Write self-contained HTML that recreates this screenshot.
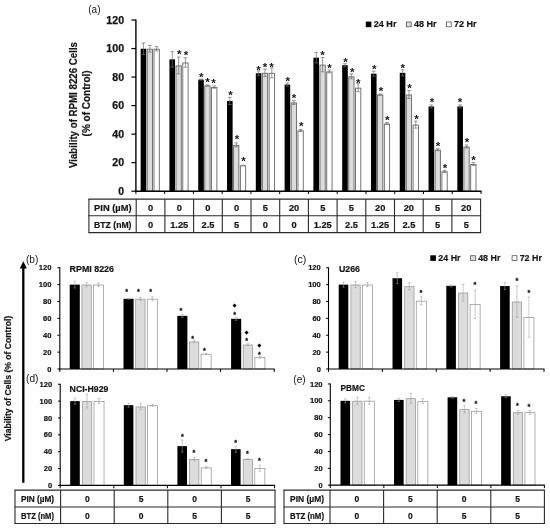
<!DOCTYPE html>
<html lang="en"><head><meta charset="utf-8"><title>Figure</title>
<style>
html,body{margin:0;padding:0;background:#fff;}
body{width:550px;height:529px;overflow:hidden;}
svg{display:block;font-family:'Liberation Sans', 'DejaVu Sans', sans-serif;}
</style></head><body>
<svg width="550" height="529" viewBox="0 0 550 529">
<rect x="0" y="0" width="550" height="529" fill="#fff"/>
<text x="88.30" y="12.50" font-size="10.5" font-weight="normal" text-anchor="start" fill="#151515" textLength="12.20" lengthAdjust="spacingAndGlyphs" >(a)</text>
<text x="124.10" y="194.80" font-size="10.0" font-weight="bold" text-anchor="end" fill="#151515" textLength="5.80" lengthAdjust="spacingAndGlyphs" stroke="#151515" stroke-width="0.25">0</text>
<line x1="131.40" y1="191.20" x2="135.90" y2="191.20" stroke="#000" stroke-width="1.2" />
<text x="124.10" y="166.27" font-size="10.0" font-weight="bold" text-anchor="end" fill="#151515" textLength="11.80" lengthAdjust="spacingAndGlyphs" stroke="#151515" stroke-width="0.25">20</text>
<line x1="131.40" y1="162.67" x2="135.90" y2="162.67" stroke="#000" stroke-width="1.2" />
<text x="124.10" y="137.74" font-size="10.0" font-weight="bold" text-anchor="end" fill="#151515" textLength="11.80" lengthAdjust="spacingAndGlyphs" stroke="#151515" stroke-width="0.25">40</text>
<line x1="131.40" y1="134.14" x2="135.90" y2="134.14" stroke="#000" stroke-width="1.2" />
<text x="124.10" y="109.21" font-size="10.0" font-weight="bold" text-anchor="end" fill="#151515" textLength="11.80" lengthAdjust="spacingAndGlyphs" stroke="#151515" stroke-width="0.25">60</text>
<line x1="131.40" y1="105.61" x2="135.90" y2="105.61" stroke="#000" stroke-width="1.2" />
<text x="124.10" y="80.68" font-size="10.0" font-weight="bold" text-anchor="end" fill="#151515" textLength="11.80" lengthAdjust="spacingAndGlyphs" stroke="#151515" stroke-width="0.25">80</text>
<line x1="131.40" y1="77.08" x2="135.90" y2="77.08" stroke="#000" stroke-width="1.2" />
<text x="124.10" y="52.15" font-size="10.0" font-weight="bold" text-anchor="end" fill="#151515" textLength="17.80" lengthAdjust="spacingAndGlyphs" stroke="#151515" stroke-width="0.25">100</text>
<line x1="131.40" y1="48.55" x2="135.90" y2="48.55" stroke="#000" stroke-width="1.2" />
<text x="124.10" y="23.62" font-size="10.0" font-weight="bold" text-anchor="end" fill="#151515" textLength="17.80" lengthAdjust="spacingAndGlyphs" stroke="#151515" stroke-width="0.25">120</text>
<line x1="131.40" y1="20.02" x2="135.90" y2="20.02" stroke="#000" stroke-width="1.2" />
<text x="76.70" y="105.00" font-size="10.1" font-weight="bold" text-anchor="middle" fill="#151515" textLength="126.00" lengthAdjust="spacingAndGlyphs" transform="rotate(-90 76.70 105.00)" stroke="#151515" stroke-width="0.2">Viability of RPMI 8226 Cells</text>
<text x="90.30" y="103.40" font-size="10.1" font-weight="bold" text-anchor="middle" fill="#151515" textLength="66.00" lengthAdjust="spacingAndGlyphs" transform="rotate(-90 90.30 103.40)" stroke="#151515" stroke-width="0.2">(% of Control)</text>
<rect x="140.65" y="48.75" width="5.60" height="142.45" fill="#000"/>
<rect x="147.20" y="49.20" width="5.30" height="142.00" fill="#dcdcdc" stroke="#666666" stroke-width="0.9"/>
<rect x="154.00" y="49.20" width="5.30" height="142.00" fill="#fff" stroke="#666666" stroke-width="0.9"/>
<line x1="143.45" y1="43.05" x2="143.45" y2="54.45" stroke="#6e6e6e" stroke-width="0.7" />
<line x1="141.65" y1="43.05" x2="145.25" y2="43.05" stroke="#6e6e6e" stroke-width="0.7" />
<line x1="141.65" y1="54.45" x2="145.25" y2="54.45" stroke="#6e6e6e" stroke-width="0.7" />
<line x1="149.85" y1="45.35" x2="149.85" y2="52.15" stroke="#6e6e6e" stroke-width="0.7" />
<line x1="148.05" y1="45.35" x2="151.65" y2="45.35" stroke="#6e6e6e" stroke-width="0.7" />
<line x1="148.05" y1="52.15" x2="151.65" y2="52.15" stroke="#6e6e6e" stroke-width="0.7" />
<line x1="156.65" y1="46.65" x2="156.65" y2="50.85" stroke="#6e6e6e" stroke-width="0.7" />
<line x1="154.85" y1="46.65" x2="158.45" y2="46.65" stroke="#6e6e6e" stroke-width="0.7" />
<line x1="154.85" y1="50.85" x2="158.45" y2="50.85" stroke="#6e6e6e" stroke-width="0.7" />
<rect x="169.44" y="59.38" width="5.60" height="131.82" fill="#000"/>
<rect x="175.99" y="65.93" width="5.30" height="125.27" fill="#dcdcdc" stroke="#666666" stroke-width="0.9"/>
<rect x="182.79" y="62.95" width="5.30" height="128.25" fill="#fff" stroke="#666666" stroke-width="0.9"/>
<line x1="172.24" y1="51.68" x2="172.24" y2="67.08" stroke="#6e6e6e" stroke-width="0.7" />
<line x1="170.44" y1="51.68" x2="174.04" y2="51.68" stroke="#6e6e6e" stroke-width="0.7" />
<line x1="170.44" y1="67.08" x2="174.04" y2="67.08" stroke="#6e6e6e" stroke-width="0.7" />
<line x1="178.64" y1="57.08" x2="178.64" y2="73.88" stroke="#6e6e6e" stroke-width="0.7" />
<line x1="176.84" y1="57.08" x2="180.44" y2="57.08" stroke="#6e6e6e" stroke-width="0.7" />
<line x1="176.84" y1="73.88" x2="180.44" y2="73.88" stroke="#6e6e6e" stroke-width="0.7" />
<text x="179.30" y="57.79" font-size="11.6" font-weight="bold" text-anchor="middle" fill="#151515" >*</text>
<line x1="185.44" y1="57.80" x2="185.44" y2="67.20" stroke="#6e6e6e" stroke-width="0.7" />
<line x1="183.64" y1="57.80" x2="187.24" y2="57.80" stroke="#6e6e6e" stroke-width="0.7" />
<line x1="183.64" y1="67.20" x2="187.24" y2="67.20" stroke="#6e6e6e" stroke-width="0.7" />
<text x="186.10" y="59.29" font-size="11.6" font-weight="bold" text-anchor="middle" fill="#151515" >*</text>
<rect x="198.23" y="79.65" width="5.60" height="111.55" fill="#000"/>
<rect x="204.78" y="85.91" width="5.30" height="105.29" fill="#dcdcdc" stroke="#666666" stroke-width="0.9"/>
<rect x="211.58" y="87.47" width="5.30" height="103.73" fill="#fff" stroke="#666666" stroke-width="0.9"/>
<line x1="201.03" y1="79.15" x2="201.03" y2="80.15" stroke="#6e6e6e" stroke-width="0.7" />
<line x1="199.23" y1="79.15" x2="202.83" y2="79.15" stroke="#6e6e6e" stroke-width="0.7" />
<line x1="199.23" y1="80.15" x2="202.83" y2="80.15" stroke="#6e6e6e" stroke-width="0.7" />
<text x="201.30" y="80.89" font-size="11.6" font-weight="bold" text-anchor="middle" fill="#151515" >*</text>
<line x1="207.43" y1="84.96" x2="207.43" y2="85.96" stroke="#6e6e6e" stroke-width="0.7" />
<line x1="205.63" y1="84.96" x2="209.23" y2="84.96" stroke="#6e6e6e" stroke-width="0.7" />
<line x1="205.63" y1="85.96" x2="209.23" y2="85.96" stroke="#6e6e6e" stroke-width="0.7" />
<text x="207.60" y="86.39" font-size="11.6" font-weight="bold" text-anchor="middle" fill="#151515" >*</text>
<line x1="214.23" y1="85.82" x2="214.23" y2="88.22" stroke="#6e6e6e" stroke-width="0.7" />
<line x1="212.43" y1="85.82" x2="216.03" y2="85.82" stroke="#6e6e6e" stroke-width="0.7" />
<line x1="212.43" y1="88.22" x2="216.03" y2="88.22" stroke="#6e6e6e" stroke-width="0.7" />
<text x="213.60" y="87.39" font-size="11.6" font-weight="bold" text-anchor="middle" fill="#151515" >*</text>
<rect x="227.02" y="100.91" width="5.60" height="90.29" fill="#000"/>
<rect x="233.57" y="145.31" width="5.30" height="45.89" fill="#dcdcdc" stroke="#666666" stroke-width="0.9"/>
<rect x="240.37" y="165.86" width="5.30" height="25.34" fill="#fff" stroke="#666666" stroke-width="0.9"/>
<line x1="229.82" y1="97.31" x2="229.82" y2="104.51" stroke="#6e6e6e" stroke-width="0.7" />
<line x1="228.02" y1="97.31" x2="231.62" y2="97.31" stroke="#6e6e6e" stroke-width="0.7" />
<line x1="228.02" y1="104.51" x2="231.62" y2="104.51" stroke="#6e6e6e" stroke-width="0.7" />
<text x="230.40" y="99.09" font-size="11.6" font-weight="bold" text-anchor="middle" fill="#151515" >*</text>
<line x1="236.22" y1="142.86" x2="236.22" y2="146.86" stroke="#6e6e6e" stroke-width="0.7" />
<line x1="234.42" y1="142.86" x2="238.02" y2="142.86" stroke="#6e6e6e" stroke-width="0.7" />
<line x1="234.42" y1="146.86" x2="238.02" y2="146.86" stroke="#6e6e6e" stroke-width="0.7" />
<text x="237.10" y="142.99" font-size="11.6" font-weight="bold" text-anchor="middle" fill="#151515" >*</text>
<line x1="241.22" y1="165.11" x2="244.82" y2="165.11" stroke="#6e6e6e" stroke-width="0.7" />
<text x="243.40" y="164.79" font-size="11.6" font-weight="bold" text-anchor="middle" fill="#151515" >*</text>
<rect x="255.81" y="73.27" width="5.60" height="117.93" fill="#000"/>
<rect x="262.36" y="73.30" width="5.30" height="117.90" fill="#dcdcdc" stroke="#666666" stroke-width="0.9"/>
<rect x="269.16" y="73.30" width="5.30" height="117.90" fill="#fff" stroke="#666666" stroke-width="0.9"/>
<line x1="258.61" y1="70.87" x2="258.61" y2="75.67" stroke="#6e6e6e" stroke-width="0.7" />
<line x1="256.81" y1="70.87" x2="260.41" y2="70.87" stroke="#6e6e6e" stroke-width="0.7" />
<line x1="256.81" y1="75.67" x2="260.41" y2="75.67" stroke="#6e6e6e" stroke-width="0.7" />
<text x="258.50" y="73.69" font-size="11.6" font-weight="bold" text-anchor="middle" fill="#151515" >*</text>
<line x1="265.01" y1="69.15" x2="265.01" y2="76.55" stroke="#6e6e6e" stroke-width="0.7" />
<line x1="263.21" y1="69.15" x2="266.81" y2="69.15" stroke="#6e6e6e" stroke-width="0.7" />
<line x1="263.21" y1="76.55" x2="266.81" y2="76.55" stroke="#6e6e6e" stroke-width="0.7" />
<text x="265.10" y="71.49" font-size="11.6" font-weight="bold" text-anchor="middle" fill="#151515" >*</text>
<line x1="271.81" y1="67.85" x2="271.81" y2="77.85" stroke="#6e6e6e" stroke-width="0.7" />
<line x1="270.01" y1="67.85" x2="273.61" y2="67.85" stroke="#6e6e6e" stroke-width="0.7" />
<line x1="270.01" y1="77.85" x2="273.61" y2="77.85" stroke="#6e6e6e" stroke-width="0.7" />
<text x="271.50" y="70.89" font-size="11.6" font-weight="bold" text-anchor="middle" fill="#151515" >*</text>
<rect x="284.60" y="84.61" width="5.60" height="106.59" fill="#000"/>
<rect x="291.15" y="102.92" width="5.30" height="88.28" fill="#dcdcdc" stroke="#666666" stroke-width="0.9"/>
<rect x="297.95" y="130.85" width="5.30" height="60.35" fill="#fff" stroke="#666666" stroke-width="0.9"/>
<line x1="287.40" y1="83.11" x2="287.40" y2="86.11" stroke="#6e6e6e" stroke-width="0.7" />
<line x1="285.60" y1="83.11" x2="289.20" y2="83.11" stroke="#6e6e6e" stroke-width="0.7" />
<line x1="285.60" y1="86.11" x2="289.20" y2="86.11" stroke="#6e6e6e" stroke-width="0.7" />
<text x="287.80" y="85.39" font-size="11.6" font-weight="bold" text-anchor="middle" fill="#151515" >*</text>
<line x1="293.80" y1="100.47" x2="293.80" y2="104.47" stroke="#6e6e6e" stroke-width="0.7" />
<line x1="292.00" y1="100.47" x2="295.60" y2="100.47" stroke="#6e6e6e" stroke-width="0.7" />
<line x1="292.00" y1="104.47" x2="295.60" y2="104.47" stroke="#6e6e6e" stroke-width="0.7" />
<text x="294.00" y="102.39" font-size="11.6" font-weight="bold" text-anchor="middle" fill="#151515" >*</text>
<line x1="300.60" y1="129.40" x2="300.60" y2="131.40" stroke="#6e6e6e" stroke-width="0.7" />
<line x1="298.80" y1="129.40" x2="302.40" y2="129.40" stroke="#6e6e6e" stroke-width="0.7" />
<line x1="298.80" y1="131.40" x2="302.40" y2="131.40" stroke="#6e6e6e" stroke-width="0.7" />
<text x="301.30" y="130.39" font-size="11.6" font-weight="bold" text-anchor="middle" fill="#151515" >*</text>
<rect x="313.39" y="57.68" width="5.60" height="133.52" fill="#000"/>
<rect x="319.94" y="65.08" width="5.30" height="126.12" fill="#dcdcdc" stroke="#666666" stroke-width="0.9"/>
<rect x="326.74" y="71.88" width="5.30" height="119.32" fill="#fff" stroke="#666666" stroke-width="0.9"/>
<line x1="316.19" y1="52.48" x2="316.19" y2="62.88" stroke="#6e6e6e" stroke-width="0.7" />
<line x1="314.39" y1="52.48" x2="317.99" y2="52.48" stroke="#6e6e6e" stroke-width="0.7" />
<line x1="314.39" y1="62.88" x2="317.99" y2="62.88" stroke="#6e6e6e" stroke-width="0.7" />
<line x1="322.59" y1="57.43" x2="322.59" y2="71.83" stroke="#6e6e6e" stroke-width="0.7" />
<line x1="320.79" y1="57.43" x2="324.39" y2="57.43" stroke="#6e6e6e" stroke-width="0.7" />
<line x1="320.79" y1="71.83" x2="324.39" y2="71.83" stroke="#6e6e6e" stroke-width="0.7" />
<text x="322.40" y="59.39" font-size="11.6" font-weight="bold" text-anchor="middle" fill="#151515" >*</text>
<line x1="329.39" y1="69.93" x2="329.39" y2="72.93" stroke="#6e6e6e" stroke-width="0.7" />
<line x1="327.59" y1="69.93" x2="331.19" y2="69.93" stroke="#6e6e6e" stroke-width="0.7" />
<line x1="327.59" y1="72.93" x2="331.19" y2="72.93" stroke="#6e6e6e" stroke-width="0.7" />
<text x="329.50" y="71.89" font-size="11.6" font-weight="bold" text-anchor="middle" fill="#151515" >*</text>
<rect x="342.18" y="65.19" width="5.60" height="126.01" fill="#000"/>
<rect x="348.73" y="76.84" width="5.30" height="114.36" fill="#dcdcdc" stroke="#666666" stroke-width="0.9"/>
<rect x="355.53" y="88.18" width="5.30" height="103.02" fill="#fff" stroke="#666666" stroke-width="0.9"/>
<line x1="344.98" y1="63.69" x2="344.98" y2="66.69" stroke="#6e6e6e" stroke-width="0.7" />
<line x1="343.18" y1="63.69" x2="346.78" y2="63.69" stroke="#6e6e6e" stroke-width="0.7" />
<line x1="343.18" y1="66.69" x2="346.78" y2="66.69" stroke="#6e6e6e" stroke-width="0.7" />
<text x="345.50" y="66.39" font-size="11.6" font-weight="bold" text-anchor="middle" fill="#151515" >*</text>
<line x1="351.38" y1="73.89" x2="351.38" y2="78.89" stroke="#6e6e6e" stroke-width="0.7" />
<line x1="349.58" y1="73.89" x2="353.18" y2="73.89" stroke="#6e6e6e" stroke-width="0.7" />
<line x1="349.58" y1="78.89" x2="353.18" y2="78.89" stroke="#6e6e6e" stroke-width="0.7" />
<text x="352.20" y="76.39" font-size="11.6" font-weight="bold" text-anchor="middle" fill="#151515" >*</text>
<line x1="358.18" y1="83.73" x2="358.18" y2="91.73" stroke="#6e6e6e" stroke-width="0.7" />
<line x1="356.38" y1="83.73" x2="359.98" y2="83.73" stroke="#6e6e6e" stroke-width="0.7" />
<line x1="356.38" y1="91.73" x2="359.98" y2="91.73" stroke="#6e6e6e" stroke-width="0.7" />
<text x="358.20" y="86.79" font-size="11.6" font-weight="bold" text-anchor="middle" fill="#151515" >*</text>
<rect x="370.97" y="73.70" width="5.60" height="117.50" fill="#000"/>
<rect x="377.52" y="94.99" width="5.30" height="96.21" fill="#dcdcdc" stroke="#666666" stroke-width="0.9"/>
<rect x="384.32" y="124.04" width="5.30" height="67.16" fill="#fff" stroke="#666666" stroke-width="0.9"/>
<line x1="373.77" y1="71.20" x2="373.77" y2="76.20" stroke="#6e6e6e" stroke-width="0.7" />
<line x1="371.97" y1="71.20" x2="375.57" y2="71.20" stroke="#6e6e6e" stroke-width="0.7" />
<line x1="371.97" y1="76.20" x2="375.57" y2="76.20" stroke="#6e6e6e" stroke-width="0.7" />
<text x="374.20" y="73.39" font-size="11.6" font-weight="bold" text-anchor="middle" fill="#151515" >*</text>
<line x1="380.17" y1="94.04" x2="380.17" y2="95.04" stroke="#6e6e6e" stroke-width="0.7" />
<line x1="378.37" y1="94.04" x2="381.97" y2="94.04" stroke="#6e6e6e" stroke-width="0.7" />
<line x1="378.37" y1="95.04" x2="381.97" y2="95.04" stroke="#6e6e6e" stroke-width="0.7" />
<text x="381.00" y="95.39" font-size="11.6" font-weight="bold" text-anchor="middle" fill="#151515" >*</text>
<line x1="386.97" y1="122.59" x2="386.97" y2="124.59" stroke="#6e6e6e" stroke-width="0.7" />
<line x1="385.17" y1="122.59" x2="388.77" y2="122.59" stroke="#6e6e6e" stroke-width="0.7" />
<line x1="385.17" y1="124.59" x2="388.77" y2="124.59" stroke="#6e6e6e" stroke-width="0.7" />
<text x="387.30" y="124.19" font-size="11.6" font-weight="bold" text-anchor="middle" fill="#151515" >*</text>
<rect x="399.76" y="72.85" width="5.60" height="118.35" fill="#000"/>
<rect x="406.31" y="94.99" width="5.30" height="96.21" fill="#dcdcdc" stroke="#666666" stroke-width="0.9"/>
<rect x="413.11" y="125.04" width="5.30" height="66.16" fill="#fff" stroke="#666666" stroke-width="0.9"/>
<line x1="402.56" y1="69.85" x2="402.56" y2="75.85" stroke="#6e6e6e" stroke-width="0.7" />
<line x1="400.76" y1="69.85" x2="404.36" y2="69.85" stroke="#6e6e6e" stroke-width="0.7" />
<line x1="400.76" y1="75.85" x2="404.36" y2="75.85" stroke="#6e6e6e" stroke-width="0.7" />
<text x="402.70" y="71.89" font-size="11.6" font-weight="bold" text-anchor="middle" fill="#151515" >*</text>
<line x1="408.96" y1="90.54" x2="408.96" y2="98.54" stroke="#6e6e6e" stroke-width="0.7" />
<line x1="407.16" y1="90.54" x2="410.76" y2="90.54" stroke="#6e6e6e" stroke-width="0.7" />
<line x1="407.16" y1="98.54" x2="410.76" y2="98.54" stroke="#6e6e6e" stroke-width="0.7" />
<text x="409.60" y="91.89" font-size="11.6" font-weight="bold" text-anchor="middle" fill="#151515" >*</text>
<line x1="415.76" y1="121.09" x2="415.76" y2="128.09" stroke="#6e6e6e" stroke-width="0.7" />
<line x1="413.96" y1="121.09" x2="417.56" y2="121.09" stroke="#6e6e6e" stroke-width="0.7" />
<line x1="413.96" y1="128.09" x2="417.56" y2="128.09" stroke="#6e6e6e" stroke-width="0.7" />
<text x="416.40" y="123.09" font-size="11.6" font-weight="bold" text-anchor="middle" fill="#151515" >*</text>
<rect x="428.55" y="106.44" width="5.60" height="84.76" fill="#000"/>
<rect x="435.10" y="150.13" width="5.30" height="41.07" fill="#dcdcdc" stroke="#666666" stroke-width="0.9"/>
<rect x="441.90" y="171.81" width="5.30" height="19.39" fill="#fff" stroke="#666666" stroke-width="0.9"/>
<line x1="431.35" y1="104.94" x2="431.35" y2="107.94" stroke="#6e6e6e" stroke-width="0.7" />
<line x1="429.55" y1="104.94" x2="433.15" y2="104.94" stroke="#6e6e6e" stroke-width="0.7" />
<line x1="429.55" y1="107.94" x2="433.15" y2="107.94" stroke="#6e6e6e" stroke-width="0.7" />
<text x="432.00" y="106.39" font-size="11.6" font-weight="bold" text-anchor="middle" fill="#151515" >*</text>
<line x1="437.75" y1="148.68" x2="437.75" y2="150.68" stroke="#6e6e6e" stroke-width="0.7" />
<line x1="435.95" y1="148.68" x2="439.55" y2="148.68" stroke="#6e6e6e" stroke-width="0.7" />
<line x1="435.95" y1="150.68" x2="439.55" y2="150.68" stroke="#6e6e6e" stroke-width="0.7" />
<text x="438.00" y="149.99" font-size="11.6" font-weight="bold" text-anchor="middle" fill="#151515" >*</text>
<line x1="444.55" y1="170.36" x2="444.55" y2="172.36" stroke="#6e6e6e" stroke-width="0.7" />
<line x1="442.75" y1="170.36" x2="446.35" y2="170.36" stroke="#6e6e6e" stroke-width="0.7" />
<line x1="442.75" y1="172.36" x2="446.35" y2="172.36" stroke="#6e6e6e" stroke-width="0.7" />
<text x="445.00" y="171.99" font-size="11.6" font-weight="bold" text-anchor="middle" fill="#151515" >*</text>
<rect x="457.34" y="106.44" width="5.60" height="84.76" fill="#000"/>
<rect x="463.89" y="147.01" width="5.30" height="44.19" fill="#dcdcdc" stroke="#666666" stroke-width="0.9"/>
<rect x="470.69" y="164.44" width="5.30" height="26.76" fill="#fff" stroke="#666666" stroke-width="0.9"/>
<line x1="460.14" y1="104.94" x2="460.14" y2="107.94" stroke="#6e6e6e" stroke-width="0.7" />
<line x1="458.34" y1="104.94" x2="461.94" y2="104.94" stroke="#6e6e6e" stroke-width="0.7" />
<line x1="458.34" y1="107.94" x2="461.94" y2="107.94" stroke="#6e6e6e" stroke-width="0.7" />
<text x="460.00" y="106.39" font-size="11.6" font-weight="bold" text-anchor="middle" fill="#151515" >*</text>
<line x1="466.54" y1="145.06" x2="466.54" y2="148.06" stroke="#6e6e6e" stroke-width="0.7" />
<line x1="464.74" y1="145.06" x2="468.34" y2="145.06" stroke="#6e6e6e" stroke-width="0.7" />
<line x1="464.74" y1="148.06" x2="468.34" y2="148.06" stroke="#6e6e6e" stroke-width="0.7" />
<text x="467.00" y="146.39" font-size="11.6" font-weight="bold" text-anchor="middle" fill="#151515" >*</text>
<line x1="473.34" y1="162.49" x2="473.34" y2="165.49" stroke="#6e6e6e" stroke-width="0.7" />
<line x1="471.54" y1="162.49" x2="475.14" y2="162.49" stroke="#6e6e6e" stroke-width="0.7" />
<line x1="471.54" y1="165.49" x2="475.14" y2="165.49" stroke="#6e6e6e" stroke-width="0.7" />
<text x="473.40" y="163.79" font-size="11.6" font-weight="bold" text-anchor="middle" fill="#151515" >*</text>
<line x1="135.90" y1="19.42" x2="135.90" y2="191.80" stroke="#000" stroke-width="1.4" />
<line x1="135.30" y1="191.20" x2="481.50" y2="191.20" stroke="#000" stroke-width="1.4" />
<line x1="135.90" y1="191.20" x2="135.90" y2="194.00" stroke="#000" stroke-width="1.0" />
<line x1="164.66" y1="191.20" x2="164.66" y2="194.00" stroke="#000" stroke-width="1.0" />
<line x1="193.42" y1="191.20" x2="193.42" y2="194.00" stroke="#000" stroke-width="1.0" />
<line x1="222.18" y1="191.20" x2="222.18" y2="194.00" stroke="#000" stroke-width="1.0" />
<line x1="250.93" y1="191.20" x2="250.93" y2="194.00" stroke="#000" stroke-width="1.0" />
<line x1="279.69" y1="191.20" x2="279.69" y2="194.00" stroke="#000" stroke-width="1.0" />
<line x1="308.45" y1="191.20" x2="308.45" y2="194.00" stroke="#000" stroke-width="1.0" />
<line x1="337.21" y1="191.20" x2="337.21" y2="194.00" stroke="#000" stroke-width="1.0" />
<line x1="365.97" y1="191.20" x2="365.97" y2="194.00" stroke="#000" stroke-width="1.0" />
<line x1="394.73" y1="191.20" x2="394.73" y2="194.00" stroke="#000" stroke-width="1.0" />
<line x1="423.48" y1="191.20" x2="423.48" y2="194.00" stroke="#000" stroke-width="1.0" />
<line x1="452.24" y1="191.20" x2="452.24" y2="194.00" stroke="#000" stroke-width="1.0" />
<line x1="481.00" y1="191.20" x2="481.00" y2="194.00" stroke="#000" stroke-width="1.0" />
<rect x="365.80" y="21.60" width="5.60" height="5.60" fill="#000"/>
<rect x="406.40" y="22.00" width="4.80" height="4.80" fill="#dcdcdc" stroke="#555" stroke-width="0.8"/>
<rect x="446.40" y="22.00" width="4.80" height="4.80" fill="#fff" stroke="#555" stroke-width="0.8"/>
<text x="373.80" y="26.90" font-size="9" font-weight="bold" text-anchor="start" fill="#151515" textLength="22.60" lengthAdjust="spacingAndGlyphs" stroke="#151515" stroke-width="0.2">24 Hr</text>
<text x="414.00" y="26.90" font-size="9" font-weight="bold" text-anchor="start" fill="#151515" textLength="22.60" lengthAdjust="spacingAndGlyphs" stroke="#151515" stroke-width="0.2">48 Hr</text>
<text x="454.00" y="26.90" font-size="9" font-weight="bold" text-anchor="start" fill="#151515" textLength="22.60" lengthAdjust="spacingAndGlyphs" stroke="#151515" stroke-width="0.2">72 Hr</text>
<line x1="88.40" y1="199.10" x2="481.10" y2="199.10" stroke="#2a2a2a" stroke-width="1.1" />
<line x1="88.40" y1="215.80" x2="481.10" y2="215.80" stroke="#2a2a2a" stroke-width="1.1" />
<line x1="88.40" y1="232.60" x2="481.10" y2="232.60" stroke="#2a2a2a" stroke-width="1.1" />
<line x1="88.90" y1="199.10" x2="88.90" y2="232.60" stroke="#2a2a2a" stroke-width="1.1" />
<line x1="136.20" y1="199.10" x2="136.20" y2="232.60" stroke="#2a2a2a" stroke-width="1.1" />
<line x1="164.90" y1="199.10" x2="164.90" y2="232.60" stroke="#2a2a2a" stroke-width="1.1" />
<line x1="193.60" y1="199.10" x2="193.60" y2="232.60" stroke="#2a2a2a" stroke-width="1.1" />
<line x1="222.30" y1="199.10" x2="222.30" y2="232.60" stroke="#2a2a2a" stroke-width="1.1" />
<line x1="251.00" y1="199.10" x2="251.00" y2="232.60" stroke="#2a2a2a" stroke-width="1.1" />
<line x1="279.70" y1="199.10" x2="279.70" y2="232.60" stroke="#2a2a2a" stroke-width="1.1" />
<line x1="308.40" y1="199.10" x2="308.40" y2="232.60" stroke="#2a2a2a" stroke-width="1.1" />
<line x1="337.10" y1="199.10" x2="337.10" y2="232.60" stroke="#2a2a2a" stroke-width="1.1" />
<line x1="365.80" y1="199.10" x2="365.80" y2="232.60" stroke="#2a2a2a" stroke-width="1.1" />
<line x1="394.50" y1="199.10" x2="394.50" y2="232.60" stroke="#2a2a2a" stroke-width="1.1" />
<line x1="423.20" y1="199.10" x2="423.20" y2="232.60" stroke="#2a2a2a" stroke-width="1.1" />
<line x1="451.90" y1="199.10" x2="451.90" y2="232.60" stroke="#2a2a2a" stroke-width="1.1" />
<line x1="480.60" y1="199.10" x2="480.60" y2="232.60" stroke="#2a2a2a" stroke-width="1.1" />
<text x="94.10" y="210.80" font-size="9.3" font-weight="bold" text-anchor="start" fill="#151515" textLength="37.40" lengthAdjust="spacingAndGlyphs" stroke="#151515" stroke-width="0.2">PIN (µM)</text>
<text x="150.55" y="210.80" font-size="9.3" font-weight="bold" text-anchor="middle" fill="#151515" stroke="#151515" stroke-width="0.2">0</text>
<text x="179.25" y="210.80" font-size="9.3" font-weight="bold" text-anchor="middle" fill="#151515" stroke="#151515" stroke-width="0.2">0</text>
<text x="207.95" y="210.80" font-size="9.3" font-weight="bold" text-anchor="middle" fill="#151515" stroke="#151515" stroke-width="0.2">0</text>
<text x="236.65" y="210.80" font-size="9.3" font-weight="bold" text-anchor="middle" fill="#151515" stroke="#151515" stroke-width="0.2">0</text>
<text x="265.35" y="210.80" font-size="9.3" font-weight="bold" text-anchor="middle" fill="#151515" stroke="#151515" stroke-width="0.2">5</text>
<text x="294.05" y="210.80" font-size="9.3" font-weight="bold" text-anchor="middle" fill="#151515" stroke="#151515" stroke-width="0.2">20</text>
<text x="322.75" y="210.80" font-size="9.3" font-weight="bold" text-anchor="middle" fill="#151515" stroke="#151515" stroke-width="0.2">5</text>
<text x="351.45" y="210.80" font-size="9.3" font-weight="bold" text-anchor="middle" fill="#151515" stroke="#151515" stroke-width="0.2">5</text>
<text x="380.15" y="210.80" font-size="9.3" font-weight="bold" text-anchor="middle" fill="#151515" stroke="#151515" stroke-width="0.2">20</text>
<text x="408.85" y="210.80" font-size="9.3" font-weight="bold" text-anchor="middle" fill="#151515" stroke="#151515" stroke-width="0.2">20</text>
<text x="437.55" y="210.80" font-size="9.3" font-weight="bold" text-anchor="middle" fill="#151515" stroke="#151515" stroke-width="0.2">5</text>
<text x="466.25" y="210.80" font-size="9.3" font-weight="bold" text-anchor="middle" fill="#151515" stroke="#151515" stroke-width="0.2">20</text>
<text x="94.10" y="227.55" font-size="9.3" font-weight="bold" text-anchor="start" fill="#151515" textLength="37.40" lengthAdjust="spacingAndGlyphs" stroke="#151515" stroke-width="0.2">BTZ (nM)</text>
<text x="150.55" y="227.55" font-size="9.3" font-weight="bold" text-anchor="middle" fill="#151515" stroke="#151515" stroke-width="0.2">0</text>
<text x="179.25" y="227.55" font-size="9.3" font-weight="bold" text-anchor="middle" fill="#151515" stroke="#151515" stroke-width="0.2">1.25</text>
<text x="207.95" y="227.55" font-size="9.3" font-weight="bold" text-anchor="middle" fill="#151515" stroke="#151515" stroke-width="0.2">2.5</text>
<text x="236.65" y="227.55" font-size="9.3" font-weight="bold" text-anchor="middle" fill="#151515" stroke="#151515" stroke-width="0.2">5</text>
<text x="265.35" y="227.55" font-size="9.3" font-weight="bold" text-anchor="middle" fill="#151515" stroke="#151515" stroke-width="0.2">0</text>
<text x="294.05" y="227.55" font-size="9.3" font-weight="bold" text-anchor="middle" fill="#151515" stroke="#151515" stroke-width="0.2">0</text>
<text x="322.75" y="227.55" font-size="9.3" font-weight="bold" text-anchor="middle" fill="#151515" stroke="#151515" stroke-width="0.2">1.25</text>
<text x="351.45" y="227.55" font-size="9.3" font-weight="bold" text-anchor="middle" fill="#151515" stroke="#151515" stroke-width="0.2">2.5</text>
<text x="380.15" y="227.55" font-size="9.3" font-weight="bold" text-anchor="middle" fill="#151515" stroke="#151515" stroke-width="0.2">1.25</text>
<text x="408.85" y="227.55" font-size="9.3" font-weight="bold" text-anchor="middle" fill="#151515" stroke="#151515" stroke-width="0.2">2.5</text>
<text x="437.55" y="227.55" font-size="9.3" font-weight="bold" text-anchor="middle" fill="#151515" stroke="#151515" stroke-width="0.2">5</text>
<text x="466.25" y="227.55" font-size="9.3" font-weight="bold" text-anchor="middle" fill="#151515" stroke="#151515" stroke-width="0.2">5</text>
<text x="25.90" y="262.90" font-size="10.8" font-weight="normal" text-anchor="start" fill="#151515" textLength="12.40" lengthAdjust="spacingAndGlyphs" >(b)</text>
<text x="69.60" y="272.00" font-size="8.6" font-weight="bold" text-anchor="start" fill="#151515" textLength="44.40" lengthAdjust="spacingAndGlyphs" stroke="#151515" stroke-width="0.2">RPMI 8226</text>
<text x="51.50" y="371.55" font-size="7.5" font-weight="bold" text-anchor="end" fill="#151515" textLength="4.15" lengthAdjust="spacingAndGlyphs" stroke="#151515" stroke-width="0.2">0</text>
<line x1="57.40" y1="369.00" x2="59.80" y2="369.00" stroke="#000" stroke-width="1.0" />
<text x="51.50" y="354.68" font-size="7.5" font-weight="bold" text-anchor="end" fill="#151515" textLength="8.40" lengthAdjust="spacingAndGlyphs" stroke="#151515" stroke-width="0.2">20</text>
<line x1="57.40" y1="352.13" x2="59.80" y2="352.13" stroke="#000" stroke-width="1.0" />
<text x="51.50" y="337.80" font-size="7.5" font-weight="bold" text-anchor="end" fill="#151515" textLength="8.40" lengthAdjust="spacingAndGlyphs" stroke="#151515" stroke-width="0.2">40</text>
<line x1="57.40" y1="335.25" x2="59.80" y2="335.25" stroke="#000" stroke-width="1.0" />
<text x="51.50" y="320.93" font-size="7.5" font-weight="bold" text-anchor="end" fill="#151515" textLength="8.40" lengthAdjust="spacingAndGlyphs" stroke="#151515" stroke-width="0.2">60</text>
<line x1="57.40" y1="318.38" x2="59.80" y2="318.38" stroke="#000" stroke-width="1.0" />
<text x="51.50" y="304.05" font-size="7.5" font-weight="bold" text-anchor="end" fill="#151515" textLength="8.40" lengthAdjust="spacingAndGlyphs" stroke="#151515" stroke-width="0.2">80</text>
<line x1="57.40" y1="301.50" x2="59.80" y2="301.50" stroke="#000" stroke-width="1.0" />
<text x="51.50" y="287.18" font-size="7.5" font-weight="bold" text-anchor="end" fill="#151515" textLength="12.65" lengthAdjust="spacingAndGlyphs" stroke="#151515" stroke-width="0.2">100</text>
<line x1="57.40" y1="284.63" x2="59.80" y2="284.63" stroke="#000" stroke-width="1.0" />
<text x="51.50" y="270.31" font-size="7.5" font-weight="bold" text-anchor="end" fill="#151515" textLength="12.65" lengthAdjust="spacingAndGlyphs" stroke="#151515" stroke-width="0.2">120</text>
<line x1="57.40" y1="267.76" x2="59.80" y2="267.76" stroke="#000" stroke-width="1.0" />
<rect x="69.70" y="284.63" width="10.10" height="84.37" fill="#000"/>
<rect x="81.88" y="285.00" width="9.35" height="84.00" fill="#dcdcdc" stroke="#969696" stroke-width="0.75"/>
<rect x="93.47" y="285.00" width="10.05" height="84.00" fill="#fff" stroke="#969696" stroke-width="0.75"/>
<line x1="74.75" y1="281.23" x2="74.75" y2="288.03" stroke="#a0a0a0" stroke-width="0.55" />
<line x1="73.45" y1="281.23" x2="76.05" y2="281.23" stroke="#a0a0a0" stroke-width="0.55" />
<line x1="73.45" y1="288.03" x2="76.05" y2="288.03" stroke="#a0a0a0" stroke-width="0.55" />
<line x1="86.55" y1="282.23" x2="86.55" y2="287.03" stroke="#a0a0a0" stroke-width="0.55" />
<line x1="85.25" y1="282.23" x2="87.85" y2="282.23" stroke="#a0a0a0" stroke-width="0.55" />
<line x1="85.25" y1="287.03" x2="87.85" y2="287.03" stroke="#a0a0a0" stroke-width="0.55" />
<line x1="98.50" y1="282.83" x2="98.50" y2="286.43" stroke="#a0a0a0" stroke-width="0.55" />
<line x1="97.20" y1="282.83" x2="99.80" y2="282.83" stroke="#a0a0a0" stroke-width="0.55" />
<line x1="97.20" y1="286.43" x2="99.80" y2="286.43" stroke="#a0a0a0" stroke-width="0.55" />
<rect x="123.50" y="298.80" width="10.10" height="70.20" fill="#000"/>
<rect x="135.67" y="299.18" width="9.35" height="69.82" fill="#dcdcdc" stroke="#969696" stroke-width="0.75"/>
<rect x="147.27" y="299.18" width="10.05" height="69.82" fill="#fff" stroke="#969696" stroke-width="0.75"/>
<line x1="128.55" y1="298.30" x2="128.55" y2="299.30" stroke="#a0a0a0" stroke-width="0.55" />
<line x1="127.25" y1="298.30" x2="129.85" y2="298.30" stroke="#a0a0a0" stroke-width="0.55" />
<line x1="127.25" y1="299.30" x2="129.85" y2="299.30" stroke="#a0a0a0" stroke-width="0.55" />
<text x="126.60" y="294.48" font-size="7.2" font-weight="bold" text-anchor="middle" fill="#151515" stroke="#151515" stroke-width="0.3">*</text>
<line x1="140.35" y1="297.30" x2="140.35" y2="300.30" stroke="#a0a0a0" stroke-width="0.55" />
<line x1="139.05" y1="297.30" x2="141.65" y2="297.30" stroke="#a0a0a0" stroke-width="0.55" />
<line x1="139.05" y1="300.30" x2="141.65" y2="300.30" stroke="#a0a0a0" stroke-width="0.55" />
<text x="138.40" y="294.48" font-size="7.2" font-weight="bold" text-anchor="middle" fill="#151515" stroke="#151515" stroke-width="0.3">*</text>
<line x1="152.30" y1="296.80" x2="152.30" y2="300.80" stroke="#a0a0a0" stroke-width="0.55" />
<line x1="151.00" y1="296.80" x2="153.60" y2="296.80" stroke="#a0a0a0" stroke-width="0.55" />
<line x1="151.00" y1="300.80" x2="153.60" y2="300.80" stroke="#a0a0a0" stroke-width="0.55" />
<text x="150.60" y="294.48" font-size="7.2" font-weight="bold" text-anchor="middle" fill="#151515" stroke="#151515" stroke-width="0.3">*</text>
<rect x="177.30" y="315.85" width="10.10" height="53.15" fill="#000"/>
<rect x="189.47" y="341.95" width="9.35" height="27.05" fill="#dcdcdc" stroke="#969696" stroke-width="0.75"/>
<rect x="201.07" y="354.19" width="10.05" height="14.81" fill="#fff" stroke="#969696" stroke-width="0.75"/>
<line x1="182.35" y1="314.35" x2="182.35" y2="317.35" stroke="#a0a0a0" stroke-width="0.55" />
<line x1="181.05" y1="314.35" x2="183.65" y2="314.35" stroke="#a0a0a0" stroke-width="0.55" />
<line x1="181.05" y1="317.35" x2="183.65" y2="317.35" stroke="#a0a0a0" stroke-width="0.55" />
<text x="181.00" y="312.88" font-size="7.2" font-weight="bold" text-anchor="middle" fill="#151515" stroke="#151515" stroke-width="0.3">*</text>
<line x1="194.15" y1="340.58" x2="194.15" y2="342.58" stroke="#a0a0a0" stroke-width="0.55" />
<line x1="192.85" y1="340.58" x2="195.45" y2="340.58" stroke="#a0a0a0" stroke-width="0.55" />
<line x1="192.85" y1="342.58" x2="195.45" y2="342.58" stroke="#a0a0a0" stroke-width="0.55" />
<text x="192.60" y="340.88" font-size="7.2" font-weight="bold" text-anchor="middle" fill="#151515" stroke="#151515" stroke-width="0.3">*</text>
<line x1="206.10" y1="353.31" x2="206.10" y2="354.31" stroke="#a0a0a0" stroke-width="0.55" />
<line x1="204.80" y1="353.31" x2="207.40" y2="353.31" stroke="#a0a0a0" stroke-width="0.55" />
<line x1="204.80" y1="354.31" x2="207.40" y2="354.31" stroke="#a0a0a0" stroke-width="0.55" />
<text x="204.40" y="353.08" font-size="7.2" font-weight="bold" text-anchor="middle" fill="#151515" stroke="#151515" stroke-width="0.3">*</text>
<rect x="231.10" y="318.80" width="10.10" height="50.20" fill="#000"/>
<rect x="243.27" y="344.99" width="9.35" height="24.01" fill="#dcdcdc" stroke="#969696" stroke-width="0.75"/>
<rect x="254.87" y="357.56" width="10.05" height="11.44" fill="#fff" stroke="#969696" stroke-width="0.75"/>
<line x1="236.15" y1="317.30" x2="236.15" y2="320.30" stroke="#a0a0a0" stroke-width="0.55" />
<line x1="234.85" y1="317.30" x2="237.45" y2="317.30" stroke="#a0a0a0" stroke-width="0.55" />
<line x1="234.85" y1="320.30" x2="237.45" y2="320.30" stroke="#a0a0a0" stroke-width="0.55" />
<text x="234.60" y="316.88" font-size="7.2" font-weight="bold" text-anchor="middle" fill="#151515" stroke="#151515" stroke-width="0.3">*</text>
<text x="234.60" y="306.99" font-size="5.4" font-weight="normal" text-anchor="middle" fill="#000" >◆</text>
<line x1="247.95" y1="343.62" x2="247.95" y2="345.62" stroke="#a0a0a0" stroke-width="0.55" />
<line x1="246.65" y1="343.62" x2="249.25" y2="343.62" stroke="#a0a0a0" stroke-width="0.55" />
<line x1="246.65" y1="345.62" x2="249.25" y2="345.62" stroke="#a0a0a0" stroke-width="0.55" />
<text x="246.60" y="343.48" font-size="7.2" font-weight="bold" text-anchor="middle" fill="#151515" stroke="#151515" stroke-width="0.3">*</text>
<text x="246.60" y="333.99" font-size="5.4" font-weight="normal" text-anchor="middle" fill="#000" >◆</text>
<line x1="259.90" y1="356.19" x2="259.90" y2="358.19" stroke="#a0a0a0" stroke-width="0.55" />
<line x1="258.60" y1="356.19" x2="261.20" y2="356.19" stroke="#a0a0a0" stroke-width="0.55" />
<line x1="258.60" y1="358.19" x2="261.20" y2="358.19" stroke="#a0a0a0" stroke-width="0.55" />
<text x="259.40" y="357.08" font-size="7.2" font-weight="bold" text-anchor="middle" fill="#151515" stroke="#151515" stroke-width="0.3">*</text>
<text x="259.40" y="346.99" font-size="5.4" font-weight="normal" text-anchor="middle" fill="#000" >◆</text>
<line x1="59.80" y1="267.26" x2="59.80" y2="369.50" stroke="#000" stroke-width="1.1" />
<line x1="59.30" y1="369.00" x2="274.70" y2="369.00" stroke="#000" stroke-width="1.2" />
<line x1="59.80" y1="369.00" x2="59.80" y2="371.90" stroke="#000" stroke-width="1.0" />
<line x1="113.40" y1="369.00" x2="113.40" y2="371.90" stroke="#000" stroke-width="1.0" />
<line x1="167.00" y1="369.00" x2="167.00" y2="371.90" stroke="#000" stroke-width="1.0" />
<line x1="220.60" y1="369.00" x2="220.60" y2="371.90" stroke="#000" stroke-width="1.0" />
<line x1="274.20" y1="369.00" x2="274.20" y2="371.90" stroke="#000" stroke-width="1.0" />
<text x="26.10" y="382.10" font-size="10.8" font-weight="normal" text-anchor="start" fill="#151515" textLength="12.40" lengthAdjust="spacingAndGlyphs" >(d)</text>
<text x="69.60" y="392.20" font-size="8.6" font-weight="bold" text-anchor="start" fill="#151515" textLength="38.80" lengthAdjust="spacingAndGlyphs" stroke="#151515" stroke-width="0.2">NCI-H929</text>
<text x="52.20" y="487.95" font-size="7.5" font-weight="bold" text-anchor="end" fill="#151515" textLength="4.15" lengthAdjust="spacingAndGlyphs" stroke="#151515" stroke-width="0.2">0</text>
<line x1="58.00" y1="485.40" x2="60.20" y2="485.40" stroke="#000" stroke-width="1.0" />
<text x="52.20" y="471.09" font-size="7.5" font-weight="bold" text-anchor="end" fill="#151515" textLength="8.40" lengthAdjust="spacingAndGlyphs" stroke="#151515" stroke-width="0.2">20</text>
<line x1="58.00" y1="468.54" x2="60.20" y2="468.54" stroke="#000" stroke-width="1.0" />
<text x="52.20" y="454.24" font-size="7.5" font-weight="bold" text-anchor="end" fill="#151515" textLength="8.40" lengthAdjust="spacingAndGlyphs" stroke="#151515" stroke-width="0.2">40</text>
<line x1="58.00" y1="451.69" x2="60.20" y2="451.69" stroke="#000" stroke-width="1.0" />
<text x="52.20" y="437.38" font-size="7.5" font-weight="bold" text-anchor="end" fill="#151515" textLength="8.40" lengthAdjust="spacingAndGlyphs" stroke="#151515" stroke-width="0.2">60</text>
<line x1="58.00" y1="434.83" x2="60.20" y2="434.83" stroke="#000" stroke-width="1.0" />
<text x="52.20" y="420.53" font-size="7.5" font-weight="bold" text-anchor="end" fill="#151515" textLength="8.40" lengthAdjust="spacingAndGlyphs" stroke="#151515" stroke-width="0.2">80</text>
<line x1="58.00" y1="417.98" x2="60.20" y2="417.98" stroke="#000" stroke-width="1.0" />
<text x="52.20" y="403.67" font-size="7.5" font-weight="bold" text-anchor="end" fill="#151515" textLength="12.65" lengthAdjust="spacingAndGlyphs" stroke="#151515" stroke-width="0.2">100</text>
<line x1="58.00" y1="401.12" x2="60.20" y2="401.12" stroke="#000" stroke-width="1.0" />
<text x="52.20" y="386.81" font-size="7.5" font-weight="bold" text-anchor="end" fill="#151515" textLength="12.65" lengthAdjust="spacingAndGlyphs" stroke="#151515" stroke-width="0.2">120</text>
<line x1="58.00" y1="384.26" x2="60.20" y2="384.26" stroke="#000" stroke-width="1.0" />
<rect x="70.20" y="401.12" width="9.60" height="84.28" fill="#000"/>
<rect x="82.38" y="401.50" width="9.35" height="83.90" fill="#dcdcdc" stroke="#969696" stroke-width="0.75"/>
<rect x="93.97" y="401.50" width="10.05" height="83.90" fill="#fff" stroke="#969696" stroke-width="0.75"/>
<line x1="75.00" y1="398.12" x2="75.00" y2="404.12" stroke="#a0a0a0" stroke-width="0.55" />
<line x1="73.70" y1="398.12" x2="76.30" y2="398.12" stroke="#a0a0a0" stroke-width="0.55" />
<line x1="73.70" y1="404.12" x2="76.30" y2="404.12" stroke="#a0a0a0" stroke-width="0.55" />
<line x1="87.05" y1="394.32" x2="87.05" y2="407.92" stroke="#a0a0a0" stroke-width="0.55" />
<line x1="85.75" y1="394.32" x2="88.35" y2="394.32" stroke="#a0a0a0" stroke-width="0.55" />
<line x1="85.75" y1="407.92" x2="88.35" y2="407.92" stroke="#a0a0a0" stroke-width="0.55" />
<line x1="99.00" y1="398.52" x2="99.00" y2="403.72" stroke="#a0a0a0" stroke-width="0.55" />
<line x1="97.70" y1="398.52" x2="100.30" y2="398.52" stroke="#a0a0a0" stroke-width="0.55" />
<line x1="97.70" y1="403.72" x2="100.30" y2="403.72" stroke="#a0a0a0" stroke-width="0.55" />
<rect x="123.80" y="405.17" width="9.60" height="80.23" fill="#000"/>
<rect x="135.97" y="406.97" width="9.35" height="78.43" fill="#dcdcdc" stroke="#969696" stroke-width="0.75"/>
<rect x="147.57" y="405.71" width="10.05" height="79.69" fill="#fff" stroke="#969696" stroke-width="0.75"/>
<line x1="128.60" y1="403.17" x2="128.60" y2="407.17" stroke="#a0a0a0" stroke-width="0.55" />
<line x1="127.30" y1="403.17" x2="129.90" y2="403.17" stroke="#a0a0a0" stroke-width="0.55" />
<line x1="127.30" y1="407.17" x2="129.90" y2="407.17" stroke="#a0a0a0" stroke-width="0.55" />
<line x1="140.65" y1="403.60" x2="140.65" y2="409.60" stroke="#a0a0a0" stroke-width="0.55" />
<line x1="139.35" y1="403.60" x2="141.95" y2="403.60" stroke="#a0a0a0" stroke-width="0.55" />
<line x1="139.35" y1="409.60" x2="141.95" y2="409.60" stroke="#a0a0a0" stroke-width="0.55" />
<line x1="152.60" y1="404.33" x2="152.60" y2="406.33" stroke="#a0a0a0" stroke-width="0.55" />
<line x1="151.30" y1="404.33" x2="153.90" y2="404.33" stroke="#a0a0a0" stroke-width="0.55" />
<line x1="151.30" y1="406.33" x2="153.90" y2="406.33" stroke="#a0a0a0" stroke-width="0.55" />
<rect x="177.40" y="446.13" width="9.60" height="39.27" fill="#000"/>
<rect x="189.58" y="459.48" width="9.35" height="25.92" fill="#dcdcdc" stroke="#969696" stroke-width="0.75"/>
<rect x="201.18" y="467.91" width="10.05" height="17.49" fill="#fff" stroke="#969696" stroke-width="0.75"/>
<line x1="182.20" y1="440.13" x2="182.20" y2="452.13" stroke="#a0a0a0" stroke-width="0.55" />
<line x1="180.90" y1="440.13" x2="183.50" y2="440.13" stroke="#a0a0a0" stroke-width="0.55" />
<line x1="180.90" y1="452.13" x2="183.50" y2="452.13" stroke="#a0a0a0" stroke-width="0.55" />
<text x="182.40" y="439.08" font-size="7.2" font-weight="bold" text-anchor="middle" fill="#151515" stroke="#151515" stroke-width="0.3">*</text>
<line x1="194.25" y1="457.60" x2="194.25" y2="460.60" stroke="#a0a0a0" stroke-width="0.55" />
<line x1="192.95" y1="457.60" x2="195.55" y2="457.60" stroke="#a0a0a0" stroke-width="0.55" />
<line x1="192.95" y1="460.60" x2="195.55" y2="460.60" stroke="#a0a0a0" stroke-width="0.55" />
<text x="194.00" y="455.48" font-size="7.2" font-weight="bold" text-anchor="middle" fill="#151515" stroke="#151515" stroke-width="0.3">*</text>
<line x1="206.20" y1="466.53" x2="206.20" y2="468.53" stroke="#a0a0a0" stroke-width="0.55" />
<line x1="204.90" y1="466.53" x2="207.50" y2="466.53" stroke="#a0a0a0" stroke-width="0.55" />
<line x1="204.90" y1="468.53" x2="207.50" y2="468.53" stroke="#a0a0a0" stroke-width="0.55" />
<text x="206.00" y="463.88" font-size="7.2" font-weight="bold" text-anchor="middle" fill="#151515" stroke="#151515" stroke-width="0.3">*</text>
<rect x="231.00" y="449.16" width="9.60" height="36.24" fill="#000"/>
<rect x="243.18" y="459.48" width="9.35" height="25.92" fill="#dcdcdc" stroke="#969696" stroke-width="0.75"/>
<rect x="254.78" y="468.50" width="10.05" height="16.90" fill="#fff" stroke="#969696" stroke-width="0.75"/>
<line x1="235.80" y1="446.16" x2="235.80" y2="452.16" stroke="#a0a0a0" stroke-width="0.55" />
<line x1="234.50" y1="446.16" x2="237.10" y2="446.16" stroke="#a0a0a0" stroke-width="0.55" />
<line x1="234.50" y1="452.16" x2="237.10" y2="452.16" stroke="#a0a0a0" stroke-width="0.55" />
<text x="235.60" y="444.88" font-size="7.2" font-weight="bold" text-anchor="middle" fill="#151515" stroke="#151515" stroke-width="0.3">*</text>
<line x1="247.85" y1="458.60" x2="247.85" y2="459.60" stroke="#a0a0a0" stroke-width="0.55" />
<line x1="246.55" y1="458.60" x2="249.15" y2="458.60" stroke="#a0a0a0" stroke-width="0.55" />
<line x1="246.55" y1="459.60" x2="249.15" y2="459.60" stroke="#a0a0a0" stroke-width="0.55" />
<text x="247.40" y="455.88" font-size="7.2" font-weight="bold" text-anchor="middle" fill="#151515" stroke="#151515" stroke-width="0.3">*</text>
<line x1="259.80" y1="465.12" x2="259.80" y2="471.12" stroke="#a0a0a0" stroke-width="0.55" />
<line x1="258.50" y1="465.12" x2="261.10" y2="465.12" stroke="#a0a0a0" stroke-width="0.55" />
<line x1="258.50" y1="471.12" x2="261.10" y2="471.12" stroke="#a0a0a0" stroke-width="0.55" />
<text x="259.40" y="463.48" font-size="7.2" font-weight="bold" text-anchor="middle" fill="#151515" stroke="#151515" stroke-width="0.3">*</text>
<line x1="60.20" y1="383.76" x2="60.20" y2="485.90" stroke="#000" stroke-width="1.1" />
<line x1="59.70" y1="485.40" x2="275.10" y2="485.40" stroke="#000" stroke-width="1.2" />
<line x1="60.20" y1="485.40" x2="60.20" y2="488.30" stroke="#000" stroke-width="1.0" />
<line x1="113.80" y1="485.40" x2="113.80" y2="488.30" stroke="#000" stroke-width="1.0" />
<line x1="167.40" y1="485.40" x2="167.40" y2="488.30" stroke="#000" stroke-width="1.0" />
<line x1="221.00" y1="485.40" x2="221.00" y2="488.30" stroke="#000" stroke-width="1.0" />
<line x1="274.60" y1="485.40" x2="274.60" y2="488.30" stroke="#000" stroke-width="1.0" />
<text x="293.90" y="262.90" font-size="10.8" font-weight="normal" text-anchor="start" fill="#151515" textLength="12.40" lengthAdjust="spacingAndGlyphs" >(c)</text>
<text x="339.00" y="272.20" font-size="8.6" font-weight="bold" text-anchor="start" fill="#151515" textLength="21.00" lengthAdjust="spacingAndGlyphs" stroke="#151515" stroke-width="0.2">U266</text>
<text x="320.80" y="371.55" font-size="7.5" font-weight="bold" text-anchor="end" fill="#151515" textLength="4.15" lengthAdjust="spacingAndGlyphs" stroke="#151515" stroke-width="0.2">0</text>
<line x1="326.10" y1="369.00" x2="328.50" y2="369.00" stroke="#000" stroke-width="1.0" />
<text x="320.80" y="354.68" font-size="7.5" font-weight="bold" text-anchor="end" fill="#151515" textLength="8.40" lengthAdjust="spacingAndGlyphs" stroke="#151515" stroke-width="0.2">20</text>
<line x1="326.10" y1="352.13" x2="328.50" y2="352.13" stroke="#000" stroke-width="1.0" />
<text x="320.80" y="337.80" font-size="7.5" font-weight="bold" text-anchor="end" fill="#151515" textLength="8.40" lengthAdjust="spacingAndGlyphs" stroke="#151515" stroke-width="0.2">40</text>
<line x1="326.10" y1="335.25" x2="328.50" y2="335.25" stroke="#000" stroke-width="1.0" />
<text x="320.80" y="320.93" font-size="7.5" font-weight="bold" text-anchor="end" fill="#151515" textLength="8.40" lengthAdjust="spacingAndGlyphs" stroke="#151515" stroke-width="0.2">60</text>
<line x1="326.10" y1="318.38" x2="328.50" y2="318.38" stroke="#000" stroke-width="1.0" />
<text x="320.80" y="304.05" font-size="7.5" font-weight="bold" text-anchor="end" fill="#151515" textLength="8.40" lengthAdjust="spacingAndGlyphs" stroke="#151515" stroke-width="0.2">80</text>
<line x1="326.10" y1="301.50" x2="328.50" y2="301.50" stroke="#000" stroke-width="1.0" />
<text x="320.80" y="287.18" font-size="7.5" font-weight="bold" text-anchor="end" fill="#151515" textLength="12.65" lengthAdjust="spacingAndGlyphs" stroke="#151515" stroke-width="0.2">100</text>
<line x1="326.10" y1="284.63" x2="328.50" y2="284.63" stroke="#000" stroke-width="1.0" />
<text x="320.80" y="270.31" font-size="7.5" font-weight="bold" text-anchor="end" fill="#151515" textLength="12.65" lengthAdjust="spacingAndGlyphs" stroke="#151515" stroke-width="0.2">120</text>
<line x1="326.10" y1="267.76" x2="328.50" y2="267.76" stroke="#000" stroke-width="1.0" />
<rect x="338.70" y="284.63" width="9.60" height="84.37" fill="#000"/>
<rect x="350.88" y="285.00" width="9.35" height="84.00" fill="#dcdcdc" stroke="#969696" stroke-width="0.75"/>
<rect x="362.48" y="285.00" width="10.05" height="84.00" fill="#fff" stroke="#969696" stroke-width="0.75"/>
<line x1="343.50" y1="282.13" x2="343.50" y2="287.13" stroke="#a0a0a0" stroke-width="0.55" />
<line x1="342.20" y1="282.13" x2="344.80" y2="282.13" stroke="#a0a0a0" stroke-width="0.55" />
<line x1="342.20" y1="287.13" x2="344.80" y2="287.13" stroke="#a0a0a0" stroke-width="0.55" />
<line x1="355.55" y1="281.63" x2="355.55" y2="287.63" stroke="#a0a0a0" stroke-width="0.55" />
<line x1="354.25" y1="281.63" x2="356.85" y2="281.63" stroke="#a0a0a0" stroke-width="0.55" />
<line x1="354.25" y1="287.63" x2="356.85" y2="287.63" stroke="#a0a0a0" stroke-width="0.55" />
<line x1="367.50" y1="282.63" x2="367.50" y2="286.63" stroke="#a0a0a0" stroke-width="0.55" />
<line x1="366.20" y1="282.63" x2="368.80" y2="282.63" stroke="#a0a0a0" stroke-width="0.55" />
<line x1="366.20" y1="286.63" x2="368.80" y2="286.63" stroke="#a0a0a0" stroke-width="0.55" />
<rect x="392.50" y="278.22" width="9.60" height="90.78" fill="#000"/>
<rect x="404.68" y="286.69" width="9.35" height="82.31" fill="#dcdcdc" stroke="#969696" stroke-width="0.75"/>
<rect x="416.28" y="301.20" width="10.05" height="67.80" fill="#fff" stroke="#969696" stroke-width="0.75"/>
<line x1="397.30" y1="272.72" x2="397.30" y2="283.72" stroke="#a0a0a0" stroke-width="0.55" />
<line x1="396.00" y1="272.72" x2="398.60" y2="272.72" stroke="#a0a0a0" stroke-width="0.55" />
<line x1="396.00" y1="283.72" x2="398.60" y2="283.72" stroke="#a0a0a0" stroke-width="0.55" />
<line x1="409.35" y1="282.82" x2="409.35" y2="289.82" stroke="#a0a0a0" stroke-width="0.55" />
<line x1="408.05" y1="282.82" x2="410.65" y2="282.82" stroke="#a0a0a0" stroke-width="0.55" />
<line x1="408.05" y1="289.82" x2="410.65" y2="289.82" stroke="#a0a0a0" stroke-width="0.55" />
<line x1="421.30" y1="296.83" x2="421.30" y2="304.83" stroke="#a0a0a0" stroke-width="0.55" />
<line x1="420.00" y1="296.83" x2="422.60" y2="296.83" stroke="#a0a0a0" stroke-width="0.55" />
<line x1="420.00" y1="304.83" x2="422.60" y2="304.83" stroke="#a0a0a0" stroke-width="0.55" />
<text x="421.00" y="295.48" font-size="7.2" font-weight="bold" text-anchor="middle" fill="#151515" stroke="#151515" stroke-width="0.3">*</text>
<rect x="446.30" y="285.81" width="9.60" height="83.19" fill="#000"/>
<rect x="458.48" y="293.02" width="9.35" height="75.98" fill="#dcdcdc" stroke="#969696" stroke-width="0.75"/>
<rect x="470.08" y="304.58" width="10.05" height="64.42" fill="#fff" stroke="#969696" stroke-width="0.75"/>
<line x1="451.10" y1="284.81" x2="451.10" y2="286.81" stroke="#a0a0a0" stroke-width="0.55" />
<line x1="449.80" y1="284.81" x2="452.40" y2="284.81" stroke="#a0a0a0" stroke-width="0.55" />
<line x1="449.80" y1="286.81" x2="452.40" y2="286.81" stroke="#a0a0a0" stroke-width="0.55" />
<line x1="463.15" y1="284.15" x2="463.15" y2="301.15" stroke="#a0a0a0" stroke-width="0.55" />
<line x1="461.85" y1="284.15" x2="464.45" y2="284.15" stroke="#a0a0a0" stroke-width="0.55" />
<line x1="461.85" y1="301.15" x2="464.45" y2="301.15" stroke="#a0a0a0" stroke-width="0.55" />
<line x1="475.10" y1="289.90" x2="475.10" y2="318.50" stroke="#a0a0a0" stroke-width="0.55" />
<line x1="473.80" y1="289.90" x2="476.40" y2="289.90" stroke="#a0a0a0" stroke-width="0.55" />
<line x1="473.80" y1="318.50" x2="476.40" y2="318.50" stroke="#a0a0a0" stroke-width="0.55" />
<text x="475.00" y="287.48" font-size="7.2" font-weight="bold" text-anchor="middle" fill="#151515" stroke="#151515" stroke-width="0.3">*</text>
<rect x="500.10" y="286.06" width="9.60" height="82.94" fill="#000"/>
<rect x="512.27" y="301.96" width="9.35" height="67.04" fill="#dcdcdc" stroke="#969696" stroke-width="0.75"/>
<rect x="523.88" y="317.57" width="10.05" height="51.43" fill="#fff" stroke="#969696" stroke-width="0.75"/>
<line x1="504.90" y1="282.56" x2="504.90" y2="289.56" stroke="#a0a0a0" stroke-width="0.55" />
<line x1="503.60" y1="282.56" x2="506.20" y2="282.56" stroke="#a0a0a0" stroke-width="0.55" />
<line x1="503.60" y1="289.56" x2="506.20" y2="289.56" stroke="#a0a0a0" stroke-width="0.55" />
<line x1="516.95" y1="285.79" x2="516.95" y2="317.39" stroke="#a0a0a0" stroke-width="0.55" />
<line x1="515.65" y1="285.79" x2="518.25" y2="285.79" stroke="#a0a0a0" stroke-width="0.55" />
<line x1="515.65" y1="317.39" x2="518.25" y2="317.39" stroke="#a0a0a0" stroke-width="0.55" />
<text x="516.90" y="283.48" font-size="7.2" font-weight="bold" text-anchor="middle" fill="#151515" stroke="#151515" stroke-width="0.3">*</text>
<line x1="528.90" y1="297.00" x2="528.90" y2="337.40" stroke="#a0a0a0" stroke-width="0.55" />
<line x1="527.60" y1="297.00" x2="530.20" y2="297.00" stroke="#a0a0a0" stroke-width="0.55" />
<line x1="527.60" y1="337.40" x2="530.20" y2="337.40" stroke="#a0a0a0" stroke-width="0.55" />
<text x="529.00" y="295.48" font-size="7.2" font-weight="bold" text-anchor="middle" fill="#151515" stroke="#151515" stroke-width="0.3">*</text>
<line x1="328.50" y1="267.26" x2="328.50" y2="369.50" stroke="#000" stroke-width="1.1" />
<line x1="328.00" y1="369.00" x2="544.50" y2="369.00" stroke="#000" stroke-width="1.2" />
<line x1="328.50" y1="369.00" x2="328.50" y2="371.90" stroke="#000" stroke-width="1.0" />
<line x1="382.38" y1="369.00" x2="382.38" y2="371.90" stroke="#000" stroke-width="1.0" />
<line x1="436.25" y1="369.00" x2="436.25" y2="371.90" stroke="#000" stroke-width="1.0" />
<line x1="490.12" y1="369.00" x2="490.12" y2="371.90" stroke="#000" stroke-width="1.0" />
<line x1="544.00" y1="369.00" x2="544.00" y2="371.90" stroke="#000" stroke-width="1.0" />
<text x="293.30" y="382.70" font-size="10.8" font-weight="normal" text-anchor="start" fill="#151515" textLength="12.40" lengthAdjust="spacingAndGlyphs" >(e)</text>
<text x="340.60" y="390.90" font-size="8.6" font-weight="bold" text-anchor="start" fill="#151515" textLength="24.40" lengthAdjust="spacingAndGlyphs" stroke="#151515" stroke-width="0.2">PBMC</text>
<text x="322.60" y="487.75" font-size="7.5" font-weight="bold" text-anchor="end" fill="#151515" textLength="4.15" lengthAdjust="spacingAndGlyphs" stroke="#151515" stroke-width="0.2">0</text>
<line x1="327.90" y1="485.20" x2="330.30" y2="485.20" stroke="#000" stroke-width="1.0" />
<text x="322.60" y="470.88" font-size="7.5" font-weight="bold" text-anchor="end" fill="#151515" textLength="8.40" lengthAdjust="spacingAndGlyphs" stroke="#151515" stroke-width="0.2">20</text>
<line x1="327.90" y1="468.33" x2="330.30" y2="468.33" stroke="#000" stroke-width="1.0" />
<text x="322.60" y="454.00" font-size="7.5" font-weight="bold" text-anchor="end" fill="#151515" textLength="8.40" lengthAdjust="spacingAndGlyphs" stroke="#151515" stroke-width="0.2">40</text>
<line x1="327.90" y1="451.45" x2="330.30" y2="451.45" stroke="#000" stroke-width="1.0" />
<text x="322.60" y="437.13" font-size="7.5" font-weight="bold" text-anchor="end" fill="#151515" textLength="8.40" lengthAdjust="spacingAndGlyphs" stroke="#151515" stroke-width="0.2">60</text>
<line x1="327.90" y1="434.58" x2="330.30" y2="434.58" stroke="#000" stroke-width="1.0" />
<text x="322.60" y="420.25" font-size="7.5" font-weight="bold" text-anchor="end" fill="#151515" textLength="8.40" lengthAdjust="spacingAndGlyphs" stroke="#151515" stroke-width="0.2">80</text>
<line x1="327.90" y1="417.70" x2="330.30" y2="417.70" stroke="#000" stroke-width="1.0" />
<text x="322.60" y="403.38" font-size="7.5" font-weight="bold" text-anchor="end" fill="#151515" textLength="12.65" lengthAdjust="spacingAndGlyphs" stroke="#151515" stroke-width="0.2">100</text>
<line x1="327.90" y1="400.83" x2="330.30" y2="400.83" stroke="#000" stroke-width="1.0" />
<text x="322.60" y="386.51" font-size="7.5" font-weight="bold" text-anchor="end" fill="#151515" textLength="12.65" lengthAdjust="spacingAndGlyphs" stroke="#151515" stroke-width="0.2">120</text>
<line x1="327.90" y1="383.96" x2="330.30" y2="383.96" stroke="#000" stroke-width="1.0" />
<rect x="340.50" y="400.83" width="9.60" height="84.37" fill="#000"/>
<rect x="352.67" y="401.20" width="9.35" height="84.00" fill="#dcdcdc" stroke="#969696" stroke-width="0.75"/>
<rect x="364.27" y="401.20" width="10.05" height="84.00" fill="#fff" stroke="#969696" stroke-width="0.75"/>
<line x1="345.30" y1="398.83" x2="345.30" y2="402.83" stroke="#a0a0a0" stroke-width="0.55" />
<line x1="344.00" y1="398.83" x2="346.60" y2="398.83" stroke="#a0a0a0" stroke-width="0.55" />
<line x1="344.00" y1="402.83" x2="346.60" y2="402.83" stroke="#a0a0a0" stroke-width="0.55" />
<line x1="357.35" y1="397.33" x2="357.35" y2="404.33" stroke="#a0a0a0" stroke-width="0.55" />
<line x1="356.05" y1="397.33" x2="358.65" y2="397.33" stroke="#a0a0a0" stroke-width="0.55" />
<line x1="356.05" y1="404.33" x2="358.65" y2="404.33" stroke="#a0a0a0" stroke-width="0.55" />
<line x1="369.30" y1="397.33" x2="369.30" y2="404.33" stroke="#a0a0a0" stroke-width="0.55" />
<line x1="368.00" y1="397.33" x2="370.60" y2="397.33" stroke="#a0a0a0" stroke-width="0.55" />
<line x1="368.00" y1="404.33" x2="370.60" y2="404.33" stroke="#a0a0a0" stroke-width="0.55" />
<rect x="394.05" y="399.90" width="9.60" height="85.30" fill="#000"/>
<rect x="406.22" y="398.67" width="9.35" height="86.53" fill="#dcdcdc" stroke="#969696" stroke-width="0.75"/>
<rect x="417.82" y="401.63" width="10.05" height="83.57" fill="#fff" stroke="#969696" stroke-width="0.75"/>
<line x1="398.85" y1="398.40" x2="398.85" y2="401.40" stroke="#a0a0a0" stroke-width="0.55" />
<line x1="397.55" y1="398.40" x2="400.15" y2="398.40" stroke="#a0a0a0" stroke-width="0.55" />
<line x1="397.55" y1="401.40" x2="400.15" y2="401.40" stroke="#a0a0a0" stroke-width="0.55" />
<line x1="410.90" y1="393.30" x2="410.90" y2="403.30" stroke="#a0a0a0" stroke-width="0.55" />
<line x1="409.60" y1="393.30" x2="412.20" y2="393.30" stroke="#a0a0a0" stroke-width="0.55" />
<line x1="409.60" y1="403.30" x2="412.20" y2="403.30" stroke="#a0a0a0" stroke-width="0.55" />
<line x1="422.85" y1="398.75" x2="422.85" y2="403.75" stroke="#a0a0a0" stroke-width="0.55" />
<line x1="421.55" y1="398.75" x2="424.15" y2="398.75" stroke="#a0a0a0" stroke-width="0.55" />
<line x1="421.55" y1="403.75" x2="424.15" y2="403.75" stroke="#a0a0a0" stroke-width="0.55" />
<rect x="447.60" y="397.29" width="9.60" height="87.91" fill="#000"/>
<rect x="459.77" y="409.64" width="9.35" height="75.56" fill="#dcdcdc" stroke="#969696" stroke-width="0.75"/>
<rect x="471.38" y="411.33" width="10.05" height="73.87" fill="#fff" stroke="#969696" stroke-width="0.75"/>
<line x1="452.40" y1="396.49" x2="452.40" y2="398.09" stroke="#a0a0a0" stroke-width="0.55" />
<line x1="451.10" y1="396.49" x2="453.70" y2="396.49" stroke="#a0a0a0" stroke-width="0.55" />
<line x1="451.10" y1="398.09" x2="453.70" y2="398.09" stroke="#a0a0a0" stroke-width="0.55" />
<line x1="464.45" y1="405.77" x2="464.45" y2="412.77" stroke="#a0a0a0" stroke-width="0.55" />
<line x1="463.15" y1="405.77" x2="465.75" y2="405.77" stroke="#a0a0a0" stroke-width="0.55" />
<line x1="463.15" y1="412.77" x2="465.75" y2="412.77" stroke="#a0a0a0" stroke-width="0.55" />
<text x="464.00" y="403.88" font-size="7.2" font-weight="bold" text-anchor="middle" fill="#151515" stroke="#151515" stroke-width="0.3">*</text>
<line x1="476.40" y1="408.45" x2="476.40" y2="413.45" stroke="#a0a0a0" stroke-width="0.55" />
<line x1="475.10" y1="408.45" x2="477.70" y2="408.45" stroke="#a0a0a0" stroke-width="0.55" />
<line x1="475.10" y1="413.45" x2="477.70" y2="413.45" stroke="#a0a0a0" stroke-width="0.55" />
<text x="476.00" y="406.08" font-size="7.2" font-weight="bold" text-anchor="middle" fill="#151515" stroke="#151515" stroke-width="0.3">*</text>
<rect x="501.15" y="396.27" width="9.60" height="88.93" fill="#000"/>
<rect x="513.32" y="412.68" width="9.35" height="72.52" fill="#dcdcdc" stroke="#969696" stroke-width="0.75"/>
<rect x="524.92" y="412.68" width="10.05" height="72.52" fill="#fff" stroke="#969696" stroke-width="0.75"/>
<line x1="505.95" y1="394.77" x2="505.95" y2="397.77" stroke="#a0a0a0" stroke-width="0.55" />
<line x1="504.65" y1="394.77" x2="507.25" y2="394.77" stroke="#a0a0a0" stroke-width="0.55" />
<line x1="504.65" y1="397.77" x2="507.25" y2="397.77" stroke="#a0a0a0" stroke-width="0.55" />
<line x1="518.00" y1="410.30" x2="518.00" y2="414.30" stroke="#a0a0a0" stroke-width="0.55" />
<line x1="516.70" y1="410.30" x2="519.30" y2="410.30" stroke="#a0a0a0" stroke-width="0.55" />
<line x1="516.70" y1="414.30" x2="519.30" y2="414.30" stroke="#a0a0a0" stroke-width="0.55" />
<text x="517.40" y="408.48" font-size="7.2" font-weight="bold" text-anchor="middle" fill="#151515" stroke="#151515" stroke-width="0.3">*</text>
<line x1="529.95" y1="410.30" x2="529.95" y2="414.30" stroke="#a0a0a0" stroke-width="0.55" />
<line x1="528.65" y1="410.30" x2="531.25" y2="410.30" stroke="#a0a0a0" stroke-width="0.55" />
<line x1="528.65" y1="414.30" x2="531.25" y2="414.30" stroke="#a0a0a0" stroke-width="0.55" />
<text x="529.00" y="409.08" font-size="7.2" font-weight="bold" text-anchor="middle" fill="#151515" stroke="#151515" stroke-width="0.3">*</text>
<line x1="330.30" y1="383.46" x2="330.30" y2="485.70" stroke="#000" stroke-width="1.1" />
<line x1="329.80" y1="485.20" x2="544.90" y2="485.20" stroke="#000" stroke-width="1.2" />
<line x1="330.30" y1="485.20" x2="330.30" y2="488.10" stroke="#000" stroke-width="1.0" />
<line x1="383.82" y1="485.20" x2="383.82" y2="488.10" stroke="#000" stroke-width="1.0" />
<line x1="437.35" y1="485.20" x2="437.35" y2="488.10" stroke="#000" stroke-width="1.0" />
<line x1="490.88" y1="485.20" x2="490.88" y2="488.10" stroke="#000" stroke-width="1.0" />
<line x1="544.40" y1="485.20" x2="544.40" y2="488.10" stroke="#000" stroke-width="1.0" />
<rect x="430.30" y="255.30" width="5.60" height="5.60" fill="#000"/>
<rect x="470.60" y="255.70" width="4.80" height="4.80" fill="#dcdcdc" stroke="#555" stroke-width="0.8"/>
<rect x="512.10" y="255.70" width="4.80" height="4.80" fill="#fff" stroke="#555" stroke-width="0.8"/>
<text x="438.30" y="260.90" font-size="9" font-weight="bold" text-anchor="start" fill="#151515" textLength="22.20" lengthAdjust="spacingAndGlyphs" stroke="#151515" stroke-width="0.2">24 Hr</text>
<text x="478.20" y="260.90" font-size="9" font-weight="bold" text-anchor="start" fill="#151515" textLength="22.20" lengthAdjust="spacingAndGlyphs" stroke="#151515" stroke-width="0.2">48 Hr</text>
<text x="519.70" y="260.90" font-size="9" font-weight="bold" text-anchor="start" fill="#151515" textLength="22.20" lengthAdjust="spacingAndGlyphs" stroke="#151515" stroke-width="0.2">72 Hr</text>
<line x1="23.30" y1="267.50" x2="23.30" y2="482.80" stroke="#000" stroke-width="2.3" />
<polygon points="23.3,261.2 19.7,268.6 26.9,268.6" fill="#000"/>
<text x="11.00" y="378.50" font-size="8.8" font-weight="bold" text-anchor="middle" fill="#151515" textLength="125.50" lengthAdjust="spacingAndGlyphs" transform="rotate(-90 11.00 378.50)" stroke="#151515" stroke-width="0.2">Viability of Cells (% of Control)</text>
<line x1="14.50" y1="490.10" x2="275.50" y2="490.10" stroke="#2a2a2a" stroke-width="1.1" />
<line x1="14.50" y1="507.00" x2="275.50" y2="507.00" stroke="#2a2a2a" stroke-width="1.1" />
<line x1="14.50" y1="523.50" x2="275.50" y2="523.50" stroke="#2a2a2a" stroke-width="1.1" />
<line x1="15.00" y1="490.10" x2="15.00" y2="523.50" stroke="#2a2a2a" stroke-width="1.1" />
<line x1="60.60" y1="490.10" x2="60.60" y2="523.50" stroke="#2a2a2a" stroke-width="1.1" />
<line x1="114.20" y1="490.10" x2="114.20" y2="523.50" stroke="#2a2a2a" stroke-width="1.1" />
<line x1="167.80" y1="490.10" x2="167.80" y2="523.50" stroke="#2a2a2a" stroke-width="1.1" />
<line x1="221.40" y1="490.10" x2="221.40" y2="523.50" stroke="#2a2a2a" stroke-width="1.1" />
<line x1="275.00" y1="490.10" x2="275.00" y2="523.50" stroke="#2a2a2a" stroke-width="1.1" />
<text x="21.00" y="501.91" font-size="8.5" font-weight="bold" text-anchor="start" fill="#151515" textLength="33.00" lengthAdjust="spacingAndGlyphs" stroke="#151515" stroke-width="0.2">PIN (µM)</text>
<text x="87.40" y="501.91" font-size="8.5" font-weight="bold" text-anchor="middle" fill="#151515" stroke="#151515" stroke-width="0.2">0</text>
<text x="141.00" y="501.91" font-size="8.5" font-weight="bold" text-anchor="middle" fill="#151515" stroke="#151515" stroke-width="0.2">5</text>
<text x="194.60" y="501.91" font-size="8.5" font-weight="bold" text-anchor="middle" fill="#151515" stroke="#151515" stroke-width="0.2">0</text>
<text x="248.20" y="501.91" font-size="8.5" font-weight="bold" text-anchor="middle" fill="#151515" stroke="#151515" stroke-width="0.2">5</text>
<text x="21.00" y="518.61" font-size="8.5" font-weight="bold" text-anchor="start" fill="#151515" textLength="33.00" lengthAdjust="spacingAndGlyphs" stroke="#151515" stroke-width="0.2">BTZ (nM)</text>
<text x="87.40" y="518.61" font-size="8.5" font-weight="bold" text-anchor="middle" fill="#151515" stroke="#151515" stroke-width="0.2">0</text>
<text x="141.00" y="518.61" font-size="8.5" font-weight="bold" text-anchor="middle" fill="#151515" stroke="#151515" stroke-width="0.2">0</text>
<text x="194.60" y="518.61" font-size="8.5" font-weight="bold" text-anchor="middle" fill="#151515" stroke="#151515" stroke-width="0.2">5</text>
<text x="248.20" y="518.61" font-size="8.5" font-weight="bold" text-anchor="middle" fill="#151515" stroke="#151515" stroke-width="0.2">5</text>
<line x1="283.50" y1="490.10" x2="544.90" y2="490.10" stroke="#2a2a2a" stroke-width="1.1" />
<line x1="283.50" y1="507.00" x2="544.90" y2="507.00" stroke="#2a2a2a" stroke-width="1.1" />
<line x1="283.50" y1="523.50" x2="544.90" y2="523.50" stroke="#2a2a2a" stroke-width="1.1" />
<line x1="284.00" y1="490.10" x2="284.00" y2="523.50" stroke="#2a2a2a" stroke-width="1.1" />
<line x1="330.00" y1="490.10" x2="330.00" y2="523.50" stroke="#2a2a2a" stroke-width="1.1" />
<line x1="383.60" y1="490.10" x2="383.60" y2="523.50" stroke="#2a2a2a" stroke-width="1.1" />
<line x1="437.20" y1="490.10" x2="437.20" y2="523.50" stroke="#2a2a2a" stroke-width="1.1" />
<line x1="490.80" y1="490.10" x2="490.80" y2="523.50" stroke="#2a2a2a" stroke-width="1.1" />
<line x1="544.40" y1="490.10" x2="544.40" y2="523.50" stroke="#2a2a2a" stroke-width="1.1" />
<text x="290.00" y="501.91" font-size="8.5" font-weight="bold" text-anchor="start" fill="#151515" textLength="34.00" lengthAdjust="spacingAndGlyphs" stroke="#151515" stroke-width="0.2">PIN (µM)</text>
<text x="356.80" y="501.91" font-size="8.5" font-weight="bold" text-anchor="middle" fill="#151515" stroke="#151515" stroke-width="0.2">0</text>
<text x="410.40" y="501.91" font-size="8.5" font-weight="bold" text-anchor="middle" fill="#151515" stroke="#151515" stroke-width="0.2">5</text>
<text x="464.00" y="501.91" font-size="8.5" font-weight="bold" text-anchor="middle" fill="#151515" stroke="#151515" stroke-width="0.2">0</text>
<text x="517.60" y="501.91" font-size="8.5" font-weight="bold" text-anchor="middle" fill="#151515" stroke="#151515" stroke-width="0.2">5</text>
<text x="290.00" y="518.61" font-size="8.5" font-weight="bold" text-anchor="start" fill="#151515" textLength="34.00" lengthAdjust="spacingAndGlyphs" stroke="#151515" stroke-width="0.2">BTZ (nM)</text>
<text x="356.80" y="518.61" font-size="8.5" font-weight="bold" text-anchor="middle" fill="#151515" stroke="#151515" stroke-width="0.2">0</text>
<text x="410.40" y="518.61" font-size="8.5" font-weight="bold" text-anchor="middle" fill="#151515" stroke="#151515" stroke-width="0.2">0</text>
<text x="464.00" y="518.61" font-size="8.5" font-weight="bold" text-anchor="middle" fill="#151515" stroke="#151515" stroke-width="0.2">5</text>
<text x="517.60" y="518.61" font-size="8.5" font-weight="bold" text-anchor="middle" fill="#151515" stroke="#151515" stroke-width="0.2">5</text>
</svg>
</body></html>
